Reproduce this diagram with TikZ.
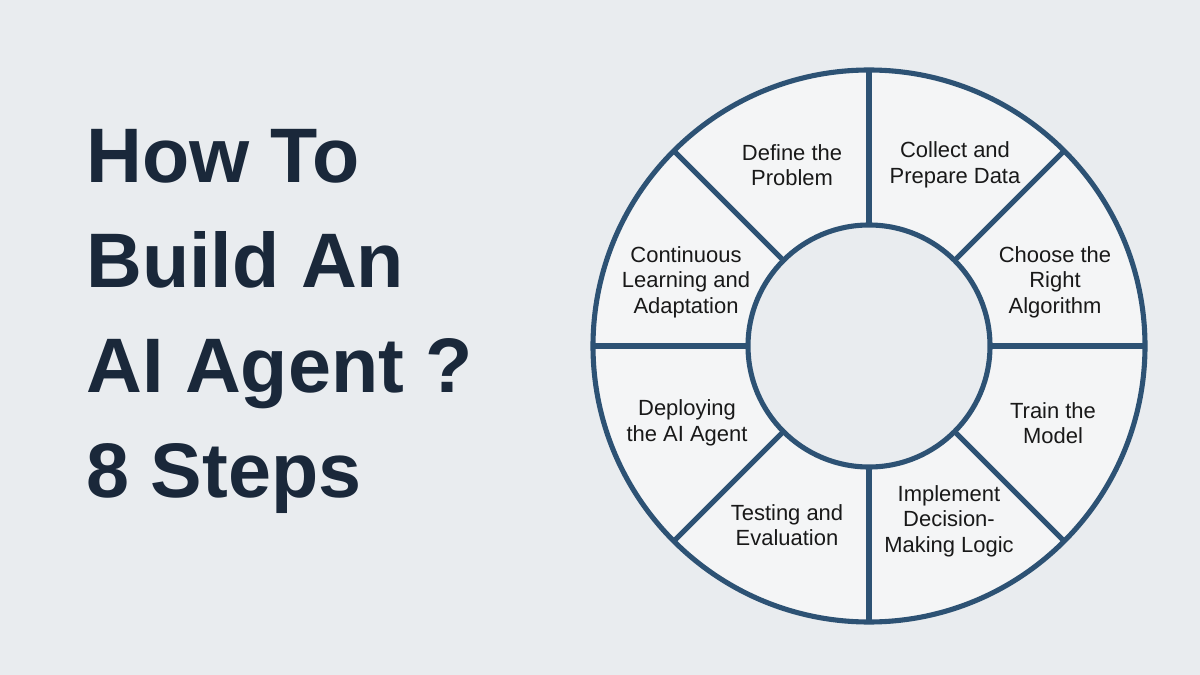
\documentclass[tikz,border=0pt]{standalone}
\usepackage{fontspec}
\setmainfont{Liberation Sans}
\usepackage{xcolor}
\usetikzlibrary{positioning,calc}
\definecolor{pagegrey}{HTML}{E9ECEF}
\definecolor{ringblue}{HTML}{2D5274}
\definecolor{titlenavy}{HTML}{1A283A}
\definecolor{cellwhite}{HTML}{F4F5F6}

\begin{document}
\begin{tikzpicture}[x=0.02cm, y=-0.02cm,
  steplabel/.style={align=center, font=\fontsize{12.5}{14.5}\selectfont, text=black!90},
  titleline/.style={anchor=base west, inner sep=0pt, text=titlenavy,
    font=\fontsize{44}{50}\selectfont\bfseries},
  ringline/.style={draw=ringblue, line width=2.9pt}]
\fill[pagegrey] (0,0) rectangle (1200,675);
\useasboundingbox (0,0) rectangle (1200,675);
% title
\node[titleline] (how) at (86,183) {How To};
\node[titleline] (build) at (86,288) {Build An};
\node[titleline] (agent) at (86,393) {AI Agent ?};
\node[titleline] (steps) at (86,497) {8 Steps};
% ring
\coordinate (hub) at (869,346);
\fill[cellwhite] (hub) circle[radius=276];
\foreach \a in {0,45,...,315}
  \draw[ringline] ($(hub)+(\a:121)$) -- ($(hub)+(\a:276)$);
\draw[ringline] (hub) circle[radius=276];
\draw[ringline, fill=pagegrey] (hub) circle[radius=121];
% steps
\node[steplabel] (define) at (792,165) {Define the\\Problem};
\node[steplabel] (collect) at (955,165) {Collect and\\Prepare Data};
\node[steplabel] (choose) at (1055,282) {Choose the\\Right\\Algorithm};
\node[steplabel] (train) at (1053,423) {Train the\\Model};
\node[steplabel] (implement) at (949,521) {Implement\\Decision-\\Making Logic};
\node[steplabel] (testing) at (787,525) {Testing and\\Evaluation};
\node[steplabel] (deploy) at (687,423) {Deploying\\the AI Agent};
\node[steplabel] (learn) at (686,282) {Continuous\\Learning and\\Adaptation};
\end{tikzpicture}
\end{document}
